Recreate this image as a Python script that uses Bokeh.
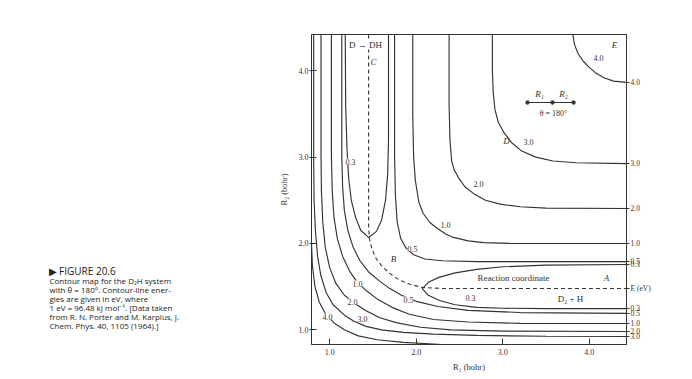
from bokeh.plotting import figure
from bokeh.layouts import row
from bokeh.models import Range1d, LinearAxis, FixedTicker, Label
from bokeh.embed import file_html
from bokeh.resources import INLINE

# ---- contour lines (R1, R2 in bohr) ----
c40_ur_r1 = [3.81, 3.83, 3.87, 3.93, 4.00, 4.08, 4.17, 4.28, 4.43]
c40_ur_r2 = [4.42, 4.30, 4.20, 4.11, 4.04, 3.97, 3.92, 3.88, 3.865]

c30_ur_r1 = [2.88, 2.88, 2.89, 2.91, 2.95, 3.01, 3.10, 3.22, 3.38, 3.58, 3.85, 4.43]
c30_ur_r2 = [4.42, 4.00, 3.75, 3.55, 3.40, 3.29, 3.17, 3.07, 3.00, 2.955, 2.935, 2.925]

c20_ur_r1 = [2.38, 2.38, 2.39, 2.41, 2.44, 2.49, 2.56, 2.66, 2.80, 2.97, 3.20, 3.50, 4.43]
c20_ur_r2 = [4.42, 3.60, 3.20, 2.95, 2.85, 2.76, 2.66, 2.58, 2.50, 2.455, 2.425, 2.41, 2.405]

c10_up_r1 = [1.96, 1.96, 1.97, 1.99, 2.03, 2.08, 2.16, 2.25, 2.34, 2.43, 2.60, 2.78, 3.10, 4.43]
c10_up_r2 = [4.42, 3.50, 3.00, 2.73, 2.48, 2.35, 2.24, 2.17, 2.11, 2.07, 2.03, 2.01, 2.00, 2.00]

c05_up_r1 = [1.75, 1.75, 1.76, 1.78, 1.82, 1.88, 1.97, 2.10, 2.30, 2.70, 4.43]
c05_up_r2 = [4.42, 3.00, 2.55, 2.25, 2.06, 1.95, 1.87, 1.82, 1.80, 1.79, 1.79]

c03_top_r1 = [1.18, 1.185, 1.20, 1.22, 1.25, 1.30, 1.36, 1.45, 1.54, 1.60, 1.645, 1.67, 1.68, 1.68, 1.68]
c03_top_r2 = [4.42, 3.60, 3.10, 2.75, 2.50, 2.30, 2.15, 2.07, 2.14, 2.27, 2.50, 2.80, 3.20, 3.80, 4.42]

c03_rt_r1 = [4.43, 3.50, 3.00, 2.70, 2.45, 2.27, 2.14, 2.07, 2.14, 2.27, 2.45, 2.70, 3.00, 3.50, 4.43]
c03_rt_r2 = [1.245, 1.245, 1.25, 1.26, 1.29, 1.34, 1.40, 1.478, 1.55, 1.61, 1.66, 1.70, 1.73, 1.75, 1.756]

c05_ll_r1 = [1.14, 1.14, 1.15, 1.17, 1.21, 1.27, 1.35, 1.45, 1.57, 1.69, 1.83, 2.00, 2.25, 2.60, 3.20, 4.43]
c05_ll_r2 = [4.42, 3.00, 2.65, 2.38, 2.15, 1.96, 1.80, 1.67, 1.57, 1.48, 1.40, 1.33, 1.27, 1.225, 1.20, 1.19]

c10_ll_r1 = [1.02, 1.02, 1.03, 1.05, 1.09, 1.15, 1.23, 1.32, 1.44, 1.56, 1.72, 1.92, 2.20, 2.60, 3.20, 4.43]
c10_ll_r2 = [4.42, 3.00, 2.60, 2.30, 2.05, 1.85, 1.68, 1.55, 1.44, 1.35, 1.26, 1.18, 1.12, 1.09, 1.075, 1.073]

c20_ll_r1 = [0.90, 0.90, 0.905, 0.92, 0.95, 1.00, 1.07, 1.17, 1.30, 1.42, 1.58, 1.78, 2.05, 2.40, 3.00, 4.43]
c20_ll_r2 = [4.42, 3.00, 2.60, 2.25, 1.95, 1.72, 1.54, 1.40, 1.30, 1.22, 1.14, 1.08, 1.03, 1.00, 0.985, 0.98]

c30_ll_r1 = [0.815, 0.815, 0.82, 0.835, 0.86, 0.90, 0.96, 1.04, 1.17, 1.28, 1.42, 1.60, 1.85, 2.20, 2.70, 3.50, 4.43]
c30_ll_r2 = [4.42, 3.00, 2.50, 2.15, 1.85, 1.62, 1.43, 1.29, 1.17, 1.10, 1.04, 1.00, 0.97, 0.95, 0.935, 0.925, 0.923]

c40_ll_r1 = [0.79, 0.80, 0.83, 0.88, 0.95, 1.05, 1.17, 1.33, 1.55, 1.85, 2.30]
c40_ll_r2 = [2.00, 1.75, 1.50, 1.32, 1.19, 1.08, 1.00, 0.93, 0.885, 0.855, 0.83]

path_r1 = [1.45, 1.45, 1.46, 1.49, 1.54, 1.61, 1.70, 1.80, 1.92, 2.07, 2.30, 4.43]
path_r2 = [4.42, 2.20, 2.05, 1.93, 1.82, 1.73, 1.65, 1.58, 1.53, 1.49, 1.479, 1.479]

axis_ticks = [1.0, 2.0, 3.0, 4.0]
axis_tick_labels = ["1.0", "2.0", "3.0", "4.0"]

# right-edge labels: (line end value, label)
right_ticks = [c40_ur_r2[-1], c30_ur_r2[-1], c20_ur_r2[-1], c10_up_r2[-1], c05_up_r2[-1],
               c03_rt_r2[-1], path_r2[-1], c03_rt_r2[0], c05_ll_r2[-1], c10_ll_r2[-1],
               c20_ll_r2[-1], c30_ll_r2[-1]]
right_labels = ["4.0", "3.0", "2.0", "1.0", "0.5", "0.3", "E (eV)", "0.3", "0.5", "1.0", "2.0", "3.0"]

cap_title = "\u25b6 FIGURE 20.6"
cap_lines = [
    "Contour map for the D\u2082H system",
    "with \u03b8 = 180\u00b0. Contour-line ener-",
    "gies are given in eV, where",
    "1 eV = 96.48 kJ mol\u207b\u00b9. [Data taken",
    "from R. N. Porter and M. Karplus, J.",
    "Chem. Phys. 40, 1105 (1964).]",
]

# ---- layout ----
W, H = 692, 379
CAPW = 270
FL, FR, FT, FB = 311, 626, 34, 344
X0, X1 = 0.79, 4.43
Y0, Y1 = 0.83, 4.42


def dx(px):
    return X0 + (px - FL) * (X1 - X0) / (FR - FL)


def dy(py):
    return Y0 + (FB - py) * (Y1 - Y0) / (FB - FT)


INK = "#333333"
SERIF = "Liberation Serif"

p = figure(width=W - CAPW, height=H, x_range=Range1d(X0, X1), y_range=Range1d(Y0, Y1),
           output_backend="svg", toolbar_location=None,
           min_border_left=FL - CAPW, min_border_right=W - FR, min_border_top=FT,
           min_border_bottom=H - FB)
p.xgrid.visible = False
p.ygrid.visible = False
p.outline_line_color = INK
p.outline_line_width = 1
p.background_fill_color = "white"
p.border_fill_color = "white"

for ax in (p.xaxis[0], p.yaxis[0]):
    ax.ticker = FixedTicker(ticks=axis_ticks)
    ax.major_label_overrides = {t: s for t, s in zip(axis_ticks, axis_tick_labels)}
    ax.minor_tick_line_color = None
    ax.axis_line_color = INK
    ax.major_tick_line_color = INK
    ax.major_label_text_font = SERIF
    ax.major_label_text_font_size = "8px"
    ax.major_label_text_color = INK
    ax.axis_label_text_font = SERIF
    ax.axis_label_text_font_size = "8.5px"
    ax.axis_label_text_font_style = "normal"
    ax.axis_label_text_color = INK

p.xaxis.major_tick_in = 6
p.xaxis.major_tick_out = 0
p.xaxis.major_label_standoff = 4
p.xaxis.axis_label = "R\u2081 (bohr)"
p.xaxis.axis_label_standoff = 4

p.yaxis.major_tick_in = 5
p.yaxis.major_tick_out = 2
p.yaxis.major_label_standoff = 1
p.yaxis.axis_label = "R\u2082 (bohr)"
p.yaxis.axis_label_standoff = 7

rax = LinearAxis(ticker=FixedTicker(ticks=right_ticks),
                 major_label_overrides={t: s for t, s in zip(right_ticks, right_labels)})
rax.minor_tick_line_color = None
rax.major_tick_in = 0
rax.major_tick_out = 3
rax.major_tick_line_color = INK
rax.axis_line_color = INK
rax.major_label_standoff = 1
rax.major_label_text_font = SERIF
rax.major_label_text_font_size = "7.5px"
rax.major_label_text_color = INK
p.add_layout(rax, "right")

curves = [
    (c40_ur_r1, c40_ur_r2), (c30_ur_r1, c30_ur_r2), (c20_ur_r1, c20_ur_r2),
    (c10_up_r1, c10_up_r2), (c05_up_r1, c05_up_r2), (c03_top_r1, c03_top_r2),
    (c03_rt_r1, c03_rt_r2), (c05_ll_r1, c05_ll_r2), (c10_ll_r1, c10_ll_r2),
    (c20_ll_r1, c20_ll_r2), (c30_ll_r1, c30_ll_r2), (c40_ll_r1, c40_ll_r2),
]
for xs, ys in curves:
    p.line(xs, ys, line_color=INK, line_width=1.15)

p.line(path_r1, path_r2, line_color=INK, line_width=1.1, line_dash="4 3")


def lab(px, py, text, size="8px", style="normal", bg=None, font=SERIF, align="center", color=INK):
    kw = {}
    if bg:
        kw = dict(background_fill_color=bg, background_fill_alpha=1.0)
    p.add_layout(Label(x=dx(px), y=dy(py), text=text, text_font=font, text_font_size=size,
                       text_font_style=style, text_color=color, text_align=align,
                       text_baseline="middle", **kw))


# in-plot labels
lab(365, 44, "D \u2192 DH", size="9px", bg="white")
lab(373, 61, "C", size="9px", style="italic", bg="white")
lab(614, 44, "E", size="9px", style="italic")
lab(598, 57, "4.0")
lab(506, 140, "D", size="9px", style="italic")
lab(528, 141, "3.0")
lab(478, 183, "2.0", bg="white")
lab(445, 224, "1.0", bg="white")
lab(412, 248, "0.5", bg="white")
lab(393, 258, "B", size="9px", style="italic", bg="white")
lab(350, 161, "0.3", bg="white")
lab(357, 283, "1.0", bg="white")
lab(352, 301, "2.0", bg="white")
lab(362, 318, "3.0", bg="white")
lab(327, 316, "4.0", bg="white")
lab(408, 299, "0.5", bg="white")
lab(470, 297, "0.3")
lab(513, 277, "Reaction coordinate", size="9px", bg="white")
lab(606, 277, "A", size="9px", style="italic")
lab(570, 298, "D\u2082 + H", size="9px")

# molecule sketch R1 - R2
p.line([dx(527), dx(573)], [dy(102), dy(102)], line_color=INK, line_width=1)
p.scatter([dx(527), dx(552), dx(573)], [dy(102)] * 3, size=3.5, color=INK)
lab(539, 93, "R\u2081", size="9px", style="italic")
lab(563, 93, "R\u2082", size="9px", style="italic")
lab(553, 113, "\u03b8 = 180\u00b0", size="8px")

# ---- caption panel (pixel coordinates, y downward) ----
cap = figure(width=CAPW, height=H, x_range=Range1d(0, CAPW), y_range=Range1d(H, 0),
             output_backend="svg", toolbar_location=None, x_axis_type=None, y_axis_type=None,
             min_border=0)
cap.xgrid.visible = False
cap.ygrid.visible = False
cap.outline_line_color = None
cap.background_fill_color = "white"
cap.border_fill_color = "white"

CAP = "Open Sans"
cap.add_layout(Label(x=48, y=289, text=cap_title, text_font=CAP, text_font_size="10px",
                     text_color="#222222", text_baseline="middle"))
for i, t in enumerate(cap_lines):
    cap.add_layout(Label(x=49, y=301 + i * 11, text=t, text_font=CAP, text_font_size="8px",
                         text_color="#222222", text_baseline="middle"))

layout = row(cap, p)
open("out.html", "w").write(file_html(layout, INLINE))
